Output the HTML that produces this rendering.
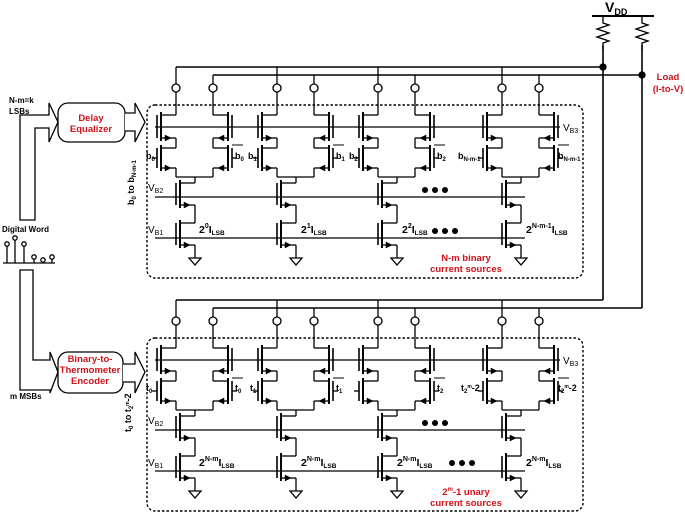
<!DOCTYPE html>
<html><head><meta charset="utf-8"><style>
html,body{margin:0;padding:0;background:#fff;width:685px;height:515px;overflow:hidden}
svg{display:block;font-family:"Liberation Sans",Arial,sans-serif}
.b{font-weight:bold}
.r{fill:#d0121b;font-weight:bold;font-size:9.5px}
</style></head><body>
<svg id="s" width="685" height="515" viewBox="0 0 685 515" xmlns="http://www.w3.org/2000/svg">
<g id="g" stroke="#000" stroke-width="1.3" fill="none"></g>

<text x="605" y="12" class="b" font-size="14">V<tspan font-size="9" dy="3">DD</tspan></text>
<text x="668" y="80" class="r" text-anchor="middle">Load</text>
<text x="668" y="92" class="r" text-anchor="middle">(I-to-V)</text>

<text x="9" y="103" class="b" font-size="8">N-m=k</text>
<text x="9" y="114" class="b" font-size="8">LSBs</text>
<text x="91" y="121" class="r" text-anchor="middle" font-size="8.5">Delay</text>
<text x="91" y="132" class="r" text-anchor="middle" font-size="8.5">Equalizer</text>
<text x="2" y="232" class="b" font-size="8">Digital Word</text>
<text x="90" y="362" class="r" text-anchor="middle" font-size="8">Binary-to-</text>
<text x="90" y="373" class="r" text-anchor="middle" font-size="8">Thermometer</text>
<text x="90" y="384" class="r" text-anchor="middle" font-size="8">Encoder</text>
<text x="10" y="399" class="b" font-size="8">m MSBs</text>
<text transform="translate(134,205) rotate(-90)" class="b" font-size="9">b<tspan font-size="6" dy="2">0</tspan><tspan dy="-2"> to b</tspan><tspan font-size="6" dy="2">N-m-1</tspan></text>
<text transform="translate(131,432) rotate(-90)" class="b" font-size="9">t<tspan font-size="6" dy="2">0</tspan><tspan dy="-2"> to t</tspan><tspan font-size="6" dy="2">2</tspan><tspan font-size="5" dy="-4">m</tspan><tspan dy="2">-2</tspan></text>

<g font-size="10">
<text x="563" y="131">V<tspan font-size="7" dy="2">B3</tspan></text>
<text x="148" y="191">V<tspan font-size="7" dy="2">B2</tspan></text>
<text x="148" y="233">V<tspan font-size="7" dy="2">B1</tspan></text>
<text x="563" y="364">V<tspan font-size="7" dy="2">B3</tspan></text>
<text x="148" y="424">V<tspan font-size="7" dy="2">B2</tspan></text>
<text x="148" y="466">V<tspan font-size="7" dy="2">B1</tspan></text>
</g>
<g class="b" font-size="9">
<text x="146" y="159">b<tspan font-size="6" dy="2">0</tspan></text>
<text x="235" y="159">b<tspan font-size="6" dy="2">0</tspan></text>
<text x="248" y="159">b<tspan font-size="6" dy="2">1</tspan></text>
<text x="336" y="159">b<tspan font-size="6" dy="2">1</tspan></text>
<text x="349" y="159">b<tspan font-size="6" dy="2">2</tspan></text>
<text x="437" y="159">b<tspan font-size="6" dy="2">2</tspan></text>
<text x="458" y="159">b<tspan font-size="6" dy="2">N-m-1</tspan></text>
<text x="558" y="159">b<tspan font-size="6" dy="2">N-m-1</tspan></text>
<text x="146" y="391">t<tspan font-size="6" dy="2">0</tspan></text>
<text x="235" y="391">t<tspan font-size="6" dy="2">0</tspan></text>
<text x="250" y="391">t<tspan font-size="6" dy="2">1</tspan></text>
<text x="336" y="391">t<tspan font-size="6" dy="2">1</tspan></text>
<text x="437" y="391">t<tspan font-size="6" dy="2">2</tspan></text>
<text x="461" y="391">t<tspan font-size="6" dy="2">2</tspan><tspan font-size="5" dy="-5">m</tspan><tspan dy="3">-2</tspan></text>
<text x="558" y="391">t<tspan font-size="6" dy="2">2</tspan><tspan font-size="5" dy="-5">m</tspan><tspan dy="3">-2</tspan></text>
</g>
<g class="b" font-size="10.5">
<text x="199" y="233">2<tspan font-size="7" dy="-5">0</tspan><tspan dy="5">I</tspan><tspan font-size="6.5" dy="2">LSB</tspan></text>
<text x="301" y="233">2<tspan font-size="7" dy="-5">1</tspan><tspan dy="5">I</tspan><tspan font-size="6.5" dy="2">LSB</tspan></text>
<text x="402" y="233">2<tspan font-size="7" dy="-5">2</tspan><tspan dy="5">I</tspan><tspan font-size="6.5" dy="2">LSB</tspan></text>
<text x="526" y="233">2<tspan font-size="7" dy="-5">N-m-1</tspan><tspan dy="5">I</tspan><tspan font-size="6.5" dy="2">LSB</tspan></text>
<text x="199" y="466">2<tspan font-size="7" dy="-5">N-m</tspan><tspan dy="5">I</tspan><tspan font-size="6.5" dy="2">LSB</tspan></text>
<text x="301" y="466">2<tspan font-size="7" dy="-5">N-m</tspan><tspan dy="5">I</tspan><tspan font-size="6.5" dy="2">LSB</tspan></text>
<text x="397" y="466">2<tspan font-size="7" dy="-5">N-m</tspan><tspan dy="5">I</tspan><tspan font-size="6.5" dy="2">LSB</tspan></text>
<text x="526" y="466">2<tspan font-size="7" dy="-5">N-m</tspan><tspan dy="5">I</tspan><tspan font-size="6.5" dy="2">LSB</tspan></text>
</g>
<text x="466" y="261" class="r" text-anchor="middle" font-size="8.5">N-m binary</text>
<text x="466" y="272" class="r" text-anchor="middle" font-size="8.5">current sources</text>
<text x="466" y="495" class="r" text-anchor="middle" font-size="8.5">2<tspan font-size="6" dy="-4">m</tspan><tspan dy="4">-1 unary</tspan></text>
<text x="466" y="506" class="r" text-anchor="middle" font-size="8.5">current sources</text>
</svg>
<script>
(function(){
var g=document.getElementById('g'),NS='http://www.w3.org/2000/svg';
function el(t,a){var e=document.createElementNS(NS,t);for(var k in a)e.setAttribute(k,a[k]);g.appendChild(e);return e;}
function L(x1,y1,x2,y2,w){return el('line',{x1:x1,y1:y1,x2:x2,y2:y2,'stroke-width':w||1.3});}
function P(d,extra){var a={d:d};for(var k in extra)a[k]=extra[k];return el('path',a);}
function arrow(x1,y,x2){var dir=x2>x1?1:-1;L(x1,y,x2,y);var ax=x1+dir*10;P('M'+ax+','+y+' l'+(-dir*6)+',-3 l0,6 z',{fill:'#000','stroke-width':0.5});}
function T(cx,yt,yb,side){
 var dx=cx+side*15;
 L(cx,yt-3,cx,yb+3,2);
 L(cx-side*4,yt,cx-side*4,yb,1.6);
 L(cx,yt,dx,yt);
 arrow(cx,yb,dx);
 return dx;}
function dots(x,y){for(var i=0;i<3;i++)el('circle',{cx:x+i*10,cy:y,r:3,fill:'#000',stroke:'none'});}
function block(o,dy2,dx2){
 var cells=[176,277,378,502];
 L(176,67+o,603,67+o,1.6);L(213,75+o,642,75+o,1.6);
 L(155,127+o,560,127+o);L(155,197+o,525,197+o);L(155,238+o,525,238+o);
 cells.forEach(function(d){
  var r=d+37,t=d+19;
  L(d,67+o,d,84+o);el('circle',{cx:d,cy:88+o,r:4,fill:'#fff'});L(d,92+o,d,115+o);
  L(r,75+o,r,84+o);el('circle',{cx:r,cy:88+o,r:4,fill:'#fff'});L(r,92+o,r,115+o);
  T(d-15,115+o,138+o,1);T(r+15,115+o,138+o,-1);
  L(d,138+o,d,148+o);L(r,138+o,r,148+o);
  T(d-15,148+o,168+o,1);L(d-19,158+o,d-24,158+o);
  T(r+15,148+o,168+o,-1);L(r+19,158+o,r+24,158+o);L(r+19,145+o,r+30,145+o,1);
  L(d,168+o,d,177+o);L(r,168+o,r,177+o);L(d,177+o,r,177+o);
  L(t,177+o,t,183+o);
  T(t-15,183+o,205+o,1);
  L(t,205+o,t,223+o);
  T(t-15,223+o,245+o,1);
  L(t,245+o,t,258+o);P('M'+(t-6)+','+(258+o)+' h12 l-6,7 z',{fill:'#fff'});
 });
 el('rect',{x:147,y:105+o,width:436,height:173,rx:8,'stroke-dasharray':'2.5,2','stroke-width':1.4});
 dots(425,190+o);dots(dx2,dy2);
}
block(0,231,435);block(233,463,452);
L(592,16,654,16,2);
[603,642].forEach(function(x){P('M'+x+',16 v7 l6,2 l-12,4 l12,4 l-12,4 l12,4 l-6,2 v7');});
L(603,45,603,300,1.6);L(642,45,642,308,1.6);
el('circle',{cx:603,cy:67,r:3,fill:'#000'});el('circle',{cx:642,cy:75,r:3,fill:'#000'});
P('M35,220 V128 H49 V142 L58,122 L49,103 V115 H20 V220 Z',{fill:'#fff'});
el('rect',{x:58,y:103,width:67,height:39,rx:10,fill:'#fff'});
P('M125,113 H135 V103 L145,122 L135,142 V131 H125',{fill:'#fff'});
P('M20,270 V390 H50 V393 L58,372 L50,352 V360 H33 V270 Z',{fill:'#fff'});
el('rect',{x:58,y:352,width:65,height:41,rx:10,fill:'#fff'});
P('M123,364 H135 V352 L145,372 L135,393 V382 H123',{fill:'#fff'});
L(3,263,55,263);
[[7,244],[15,238],[24,244],[34,257],[43,260],[52,257]].forEach(function(p){L(p[0],263,p[0],p[1]+2);el('circle',{cx:p[0],cy:p[1],r:2.2,fill:'#fff'});});
})();
</script>
</body></html>
